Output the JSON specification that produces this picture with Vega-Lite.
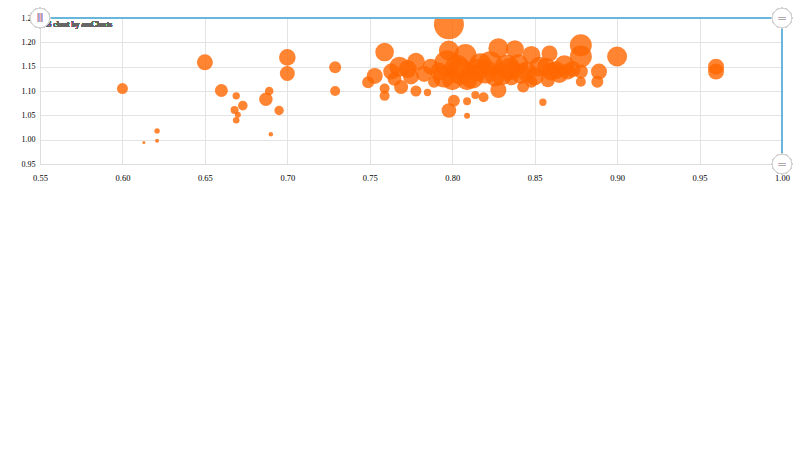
{
  "$schema": "https://vega.github.io/schema/vega-lite/v6.json",
  "width": 742,
  "height": 146,
  "autosize": "none",
  "padding": {"left": 40, "top": 18, "right": 18, "bottom": 286},
  "background": "white",
  "config": {
    "view": {"stroke": null},
    "axis": {
      "labelFont": "Liberation Serif",
      "labelFontSize": 8.5,
      "labelColor": "#000000",
      "labelFlush": false,
      "labelOverlap": false,
      "gridColor": "#e3e3e3",
      "gridWidth": 1,
      "domainColor": "#dddddd",
      "ticks": false
    },
    "axisY": {"labelOverlap": false, "labelFontSize": 8}
  },
  "data": {
    "values": [
      {"x": 0.600, "y": 1.105, "value": 5.5},
      {"x": 0.613, "y": 0.994, "value": 1.5},
      {"x": 0.621, "y": 1.018, "value": 2.7},
      {"x": 0.621, "y": 0.998, "value": 2},
      {"x": 0.650, "y": 1.159, "value": 8},
      {"x": 0.660, "y": 1.101, "value": 6.5},
      {"x": 0.669, "y": 1.090, "value": 3.7},
      {"x": 0.673, "y": 1.070, "value": 4.8},
      {"x": 0.668, "y": 1.061, "value": 4},
      {"x": 0.670, "y": 1.051, "value": 3},
      {"x": 0.669, "y": 1.040, "value": 3.3},
      {"x": 0.687, "y": 1.083, "value": 6.7},
      {"x": 0.689, "y": 1.100, "value": 4.3},
      {"x": 0.695, "y": 1.060, "value": 4.7},
      {"x": 0.690, "y": 1.011, "value": 2.2},
      {"x": 0.700, "y": 1.169, "value": 8.3},
      {"x": 0.700, "y": 1.136, "value": 7.5},
      {"x": 0.729, "y": 1.149, "value": 6},
      {"x": 0.729, "y": 1.100, "value": 5},
      {"x": 0.798, "y": 1.237, "value": 15},
      {"x": 0.759, "y": 1.180, "value": 9.3},
      {"x": 0.749, "y": 1.118, "value": 6},
      {"x": 0.753, "y": 1.131, "value": 8},
      {"x": 0.759, "y": 1.105, "value": 5},
      {"x": 0.759, "y": 1.090, "value": 5},
      {"x": 0.765, "y": 1.125, "value": 7},
      {"x": 0.769, "y": 1.108, "value": 7},
      {"x": 0.768, "y": 1.150, "value": 10},
      {"x": 0.763, "y": 1.140, "value": 8},
      {"x": 0.773, "y": 1.145, "value": 9},
      {"x": 0.775, "y": 1.130, "value": 8},
      {"x": 0.778, "y": 1.160, "value": 9},
      {"x": 0.778, "y": 1.100, "value": 5.5},
      {"x": 0.783, "y": 1.135, "value": 8},
      {"x": 0.785, "y": 1.097, "value": 3.7},
      {"x": 0.787, "y": 1.150, "value": 8},
      {"x": 0.789, "y": 1.119, "value": 6},
      {"x": 0.792, "y": 1.140, "value": 9},
      {"x": 0.795, "y": 1.130, "value": 11},
      {"x": 0.798, "y": 1.183, "value": 10},
      {"x": 0.797, "y": 1.157, "value": 13},
      {"x": 0.800, "y": 1.122, "value": 10},
      {"x": 0.801, "y": 1.080, "value": 6},
      {"x": 0.798, "y": 1.060, "value": 7.3},
      {"x": 0.803, "y": 1.150, "value": 12},
      {"x": 0.809, "y": 1.079, "value": 4},
      {"x": 0.809, "y": 1.049, "value": 3},
      {"x": 0.805, "y": 1.140, "value": 13},
      {"x": 0.808, "y": 1.174, "value": 11},
      {"x": 0.809, "y": 1.122, "value": 10},
      {"x": 0.812, "y": 1.130, "value": 12},
      {"x": 0.815, "y": 1.143, "value": 11},
      {"x": 0.817, "y": 1.155, "value": 11},
      {"x": 0.814, "y": 1.092, "value": 4},
      {"x": 0.819, "y": 1.087, "value": 5},
      {"x": 0.820, "y": 1.140, "value": 12},
      {"x": 0.823, "y": 1.157, "value": 12},
      {"x": 0.826, "y": 1.130, "value": 10},
      {"x": 0.828, "y": 1.188, "value": 10},
      {"x": 0.828, "y": 1.102, "value": 8},
      {"x": 0.830, "y": 1.135, "value": 11},
      {"x": 0.833, "y": 1.150, "value": 12},
      {"x": 0.835, "y": 1.145, "value": 11},
      {"x": 0.838, "y": 1.186, "value": 9},
      {"x": 0.836, "y": 1.126, "value": 7},
      {"x": 0.840, "y": 1.155, "value": 10},
      {"x": 0.842, "y": 1.135, "value": 10},
      {"x": 0.843, "y": 1.109, "value": 6},
      {"x": 0.845, "y": 1.140, "value": 10},
      {"x": 0.848, "y": 1.174, "value": 9},
      {"x": 0.848, "y": 1.119, "value": 6},
      {"x": 0.850, "y": 1.130, "value": 9},
      {"x": 0.853, "y": 1.150, "value": 10},
      {"x": 0.855, "y": 1.077, "value": 3.7},
      {"x": 0.857, "y": 1.150, "value": 9},
      {"x": 0.859, "y": 1.177, "value": 8},
      {"x": 0.858, "y": 1.122, "value": 7},
      {"x": 0.860, "y": 1.140, "value": 9},
      {"x": 0.863, "y": 1.143, "value": 9},
      {"x": 0.865, "y": 1.135, "value": 9},
      {"x": 0.868, "y": 1.153, "value": 10},
      {"x": 0.870, "y": 1.140, "value": 8},
      {"x": 0.873, "y": 1.145, "value": 8},
      {"x": 0.878, "y": 1.194, "value": 11},
      {"x": 0.878, "y": 1.171, "value": 11},
      {"x": 0.878, "y": 1.119, "value": 5},
      {"x": 0.878, "y": 1.140, "value": 7},
      {"x": 0.889, "y": 1.140, "value": 8},
      {"x": 0.888, "y": 1.119, "value": 6},
      {"x": 0.900, "y": 1.171, "value": 10},
      {"x": 0.960, "y": 1.150, "value": 8},
      {"x": 0.960, "y": 1.140, "value": 8}
    ]
  },
  "layer": [
    {
      "mark": {"type": "circle", "fill": "#ff6600", "fillOpacity": 0.8, "stroke": null, "clip": true},
      "encoding": {
        "x": {
          "field": "x", "type": "quantitative",
          "scale": {"domain": [0.55, 1.0], "nice": false, "zero": false},
          "axis": {"title": null, "format": ".2f", "tickCount": 10, "labelPadding": 9}
        },
        "y": {
          "field": "y", "type": "quantitative",
          "scale": {"domain": [0.95, 1.25], "nice": false, "zero": false},
          "axis": {"title": null, "format": ".2f", "tickCount": 7, "labelPadding": 5}
        },
        "size": {
          "field": "value", "type": "quantitative",
          "scale": {"type": "pow", "exponent": 2, "domain": [0, 16], "range": [0, 1024]},
          "legend": null
        }
      }
    },
    {
      "mark": {"type": "rule", "stroke": "#67b7dc", "strokeWidth": 2},
      "encoding": {"y": {"datum": 1.25, "type": "quantitative"}}
    },
    {
      "mark": {"type": "rule", "stroke": "#67b7dc", "strokeWidth": 2},
      "encoding": {"x": {"datum": 1.0, "type": "quantitative"}}
    },
    {
      "mark": {"type": "text", "font": "Liberation Serif", "fontSize": 8, "fill": "#666666", "align": "left", "baseline": "middle", "dx": 4, "dy": 7},
      "encoding": {
        "x": {"datum": 0.55, "type": "quantitative"},
        "y": {"datum": 1.25, "type": "quantitative"},
        "text": {"value": "JS chart by amCharts"}
      }
    },
    {
      "mark": {"type": "point", "shape": "circle", "filled": true, "fill": "white", "fillOpacity": 0.85, "stroke": "#d0d0d0", "strokeWidth": 1, "size": 380},
      "encoding": {
        "x": {"datum": 0.55, "type": "quantitative"},
        "y": {"datum": 1.25, "type": "quantitative"}
      }
    },
    {
      "mark": {"type": "point", "shape": "circle", "filled": true, "fill": "white", "fillOpacity": 1, "stroke": "#d0d0d0", "strokeWidth": 1, "size": 380},
      "encoding": {
        "x": {"datum": 1.0, "type": "quantitative"},
        "y": {"datum": 1.25, "type": "quantitative"}
      }
    },
    {
      "mark": {"type": "point", "shape": "circle", "filled": true, "fill": "white", "fillOpacity": 1, "stroke": "#d0d0d0", "strokeWidth": 1, "size": 380},
      "encoding": {
        "x": {"datum": 1.0, "type": "quantitative"},
        "y": {"datum": 0.95, "type": "quantitative"}
      }
    },
    {
      "mark": {"type": "text", "font": "DejaVu Sans", "fontSize": 9, "fill": "#aaaaaa", "align": "center", "baseline": "middle"},
      "encoding": {
        "x": {"datum": 1.0, "type": "quantitative"},
        "y": {"datum": 1.25, "type": "quantitative"},
        "text": {"value": "="}
      }
    },
    {
      "mark": {"type": "text", "font": "DejaVu Sans", "fontSize": 9, "fill": "#aaaaaa", "align": "center", "baseline": "middle"},
      "encoding": {
        "x": {"datum": 1.0, "type": "quantitative"},
        "y": {"datum": 0.95, "type": "quantitative"},
        "text": {"value": "="}
      }
    },
    {
      "mark": {"type": "text", "font": "DejaVu Sans", "fontSize": 8, "fill": "#aaaaaa", "align": "center", "baseline": "middle"},
      "encoding": {
        "x": {"datum": 0.55, "type": "quantitative"},
        "y": {"datum": 1.25, "type": "quantitative"},
        "text": {"value": "||"}
      }
    }
  ]
}
